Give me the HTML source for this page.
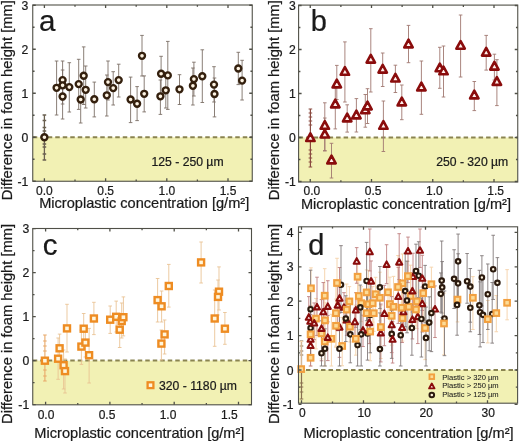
<!DOCTYPE html>
<html><head><meta charset="utf-8"><style>html,body{margin:0;padding:0;background:#fff;width:520px;height:443px;overflow:hidden}svg{display:block;filter:blur(0.35px)}</style></head>
<body><svg width="520" height="443" viewBox="0 0 520 443" font-family="Liberation Sans, sans-serif"><style>text{stroke:#1a1a1a;stroke-width:0.22px}</style><rect x="32.75" y="137.25" width="219.5" height="44" fill="#f2f1b4"/><line x1="32.75" y1="137.25" x2="252.25" y2="137.25" stroke="#8a8450" stroke-width="2" stroke-dasharray="4.5,3"/><path d="M44.4,115V160M42.6,115h3.6M42.6,120.5h3.6M42.6,127.5h3.6M42.6,131h3.6M42.6,144h3.6M42.6,147h3.6M42.6,154h3.6M42.6,160h3.6" stroke="#6a6050" stroke-width="1.3" fill="none"/><path d="M56.6,61V115M54.8,61h3.6M54.8,115h3.6M62.6,61V104M60.8,61h3.6M60.8,104h3.6M62.6,70V100M60.8,70h3.6M60.8,100h3.6M62.6,80V119M60.8,80h3.6M60.8,119h3.6M69.3,62.7V112M67.5,62.7h3.6M67.5,112h3.6M78.7,59.3V109.4M76.9,59.3h3.6M76.9,109.4h3.6M83.7,46.9V104.5M81.9,46.9h3.6M81.9,104.5h3.6M80.7,85V123M78.9,85h3.6M78.9,123h3.6M85.7,66V108M83.9,66h3.6M83.9,108h3.6M94.3,82.1V116.9M92.5,82.1h3.6M92.5,116.9h3.6M108,61V100M106.2,61h3.6M106.2,100h3.6M106.8,75V116M105,75h3.6M105,116h3.6M113.2,71.7V105M111.4,71.7h3.6M111.4,105h3.6M118.7,64.2V97M116.9,64.2h3.6M116.9,97h3.6M130.6,77.1V122.6M128.8,77.1h3.6M128.8,122.6h3.6M137.1,86.6V120.6M135.3,86.6h3.6M135.3,120.6h3.6M142,35.4V76M140.2,35.4h3.6M140.2,76h3.6M144.2,75.9V111.9M142.4,75.9h3.6M142.4,111.9h3.6M161.1,56.3V93M159.3,56.3h3.6M159.3,93h3.6M167.8,41.4V109.4M166,41.4h3.6M166,109.4h3.6M160.4,80V114.4M158.6,80h3.6M158.6,114.4h3.6M165.8,73V108M164,73h3.6M164,108h3.6M179.5,74.7V104.5M177.7,74.7h3.6M177.7,104.5h3.6M193.9,62.2V96M192.1,62.2h3.6M192.1,96h3.6M192.9,68V105M191.1,68h3.6M191.1,105h3.6M202.3,49.8V102.5M200.5,49.8h3.6M200.5,102.5h3.6M214,66.7V102M212.2,66.7h3.6M212.2,102h3.6M214.5,78V116.9M212.7,78h3.6M212.7,116.9h3.6M238.3,52.3V84.6M236.5,52.3h3.6M236.5,84.6h3.6M242.1,60.3V100M240.3,60.3h3.6M240.3,100h3.6M44.4,137V137M42.6,137h3.6M42.6,137h3.6" stroke="#7d7068" stroke-width="0.9" fill="none"/><circle cx="56.6" cy="87.8" r="3.0" fill="#fdf3e2" stroke="#34200e" stroke-width="2.35"/><circle cx="62.6" cy="80.1" r="3.0" fill="#fdf3e2" stroke="#34200e" stroke-width="2.35"/><circle cx="62.6" cy="85.3" r="3.0" fill="#fdf3e2" stroke="#34200e" stroke-width="2.35"/><circle cx="62.6" cy="96.5" r="3.0" fill="#fdf3e2" stroke="#34200e" stroke-width="2.35"/><circle cx="69.3" cy="87.1" r="3.0" fill="#fdf3e2" stroke="#34200e" stroke-width="2.35"/><circle cx="78.7" cy="84.1" r="3.0" fill="#fdf3e2" stroke="#34200e" stroke-width="2.35"/><circle cx="83.7" cy="75.7" r="3.0" fill="#fdf3e2" stroke="#34200e" stroke-width="2.35"/><circle cx="80.7" cy="99.5" r="3.0" fill="#fdf3e2" stroke="#34200e" stroke-width="2.35"/><circle cx="85.7" cy="89.8" r="3.0" fill="#fdf3e2" stroke="#34200e" stroke-width="2.35"/><circle cx="94.3" cy="99.2" r="3.0" fill="#fdf3e2" stroke="#34200e" stroke-width="2.35"/><circle cx="108" cy="82.1" r="3.0" fill="#fdf3e2" stroke="#34200e" stroke-width="2.35"/><circle cx="106.8" cy="95.3" r="3.0" fill="#fdf3e2" stroke="#34200e" stroke-width="2.35"/><circle cx="113.2" cy="88.1" r="3.0" fill="#fdf3e2" stroke="#34200e" stroke-width="2.35"/><circle cx="118.7" cy="80.1" r="3.0" fill="#fdf3e2" stroke="#34200e" stroke-width="2.35"/><circle cx="130.6" cy="99.5" r="3.0" fill="#fdf3e2" stroke="#34200e" stroke-width="2.35"/><circle cx="137.1" cy="103.7" r="3.0" fill="#fdf3e2" stroke="#34200e" stroke-width="2.35"/><circle cx="142" cy="55.8" r="3.0" fill="#fdf3e2" stroke="#34200e" stroke-width="2.35"/><circle cx="144.2" cy="93.8" r="3.0" fill="#fdf3e2" stroke="#34200e" stroke-width="2.35"/><circle cx="161.1" cy="73.7" r="3.0" fill="#fdf3e2" stroke="#34200e" stroke-width="2.35"/><circle cx="167.8" cy="75.4" r="3.0" fill="#fdf3e2" stroke="#34200e" stroke-width="2.35"/><circle cx="160.4" cy="96.3" r="3.0" fill="#fdf3e2" stroke="#34200e" stroke-width="2.35"/><circle cx="165.8" cy="90.3" r="3.0" fill="#fdf3e2" stroke="#34200e" stroke-width="2.35"/><circle cx="179.5" cy="89.3" r="3.0" fill="#fdf3e2" stroke="#34200e" stroke-width="2.35"/><circle cx="193.9" cy="79.1" r="3.0" fill="#fdf3e2" stroke="#34200e" stroke-width="2.35"/><circle cx="192.9" cy="85.8" r="3.0" fill="#fdf3e2" stroke="#34200e" stroke-width="2.35"/><circle cx="202.3" cy="76.2" r="3.0" fill="#fdf3e2" stroke="#34200e" stroke-width="2.35"/><circle cx="214" cy="84.6" r="3.0" fill="#fdf3e2" stroke="#34200e" stroke-width="2.35"/><circle cx="214.5" cy="94" r="3.0" fill="#fdf3e2" stroke="#34200e" stroke-width="2.35"/><circle cx="238.3" cy="68.5" r="3.0" fill="#fdf3e2" stroke="#34200e" stroke-width="2.35"/><circle cx="242.1" cy="80.6" r="3.0" fill="#fdf3e2" stroke="#34200e" stroke-width="2.35"/><circle cx="44.4" cy="137.25" r="3.0" fill="#fdf3e2" stroke="#34200e" stroke-width="2.35"/><path d="M32.75,5.25h3M252.25,5.25h-3M32.75,49.25h3M252.25,49.25h-3M32.75,93.25h3M252.25,93.25h-3M32.75,137.25h3M252.25,137.25h-3M32.75,181.25h3M252.25,181.25h-3M32.75,27.25h1.8M252.25,27.25h-1.8M32.75,71.25h1.8M252.25,71.25h-1.8M32.75,115.25h1.8M252.25,115.25h-1.8M32.75,159.25h1.8M252.25,159.25h-1.8M44.4,181.25v-3M44.4,5v3M105.6,181.25v-3M105.6,5v3M166.8,181.25v-3M166.8,5v3M228,181.25v-3M228,5v3M75,181.25v-1.8M75,5v1.8M136.2,181.25v-1.8M136.2,5v1.8M197.4,181.25v-1.8M197.4,5v1.8" stroke="#505048" stroke-width="1.3" fill="none"/><rect x="32.75" y="5" width="219.5" height="176.25" fill="none" stroke="#505048" stroke-width="1.1"/><text x="28.3" y="9.75" font-size="12.2" text-anchor="end" fill="#1a1a1a" >3</text><text x="28.3" y="53.75" font-size="12.2" text-anchor="end" fill="#1a1a1a" >2</text><text x="28.3" y="97.75" font-size="12.2" text-anchor="end" fill="#1a1a1a" >1</text><text x="28.3" y="141.75" font-size="12.2" text-anchor="end" fill="#1a1a1a" >0</text><text x="28.3" y="185.75" font-size="12.2" text-anchor="end" fill="#1a1a1a" >-1</text><text x="44.4" y="194.6" font-size="12" text-anchor="middle" fill="#1a1a1a" >0.0</text><text x="105.6" y="194.6" font-size="12" text-anchor="middle" fill="#1a1a1a" >0.5</text><text x="166.8" y="194.6" font-size="12" text-anchor="middle" fill="#1a1a1a" >1.0</text><text x="228" y="194.6" font-size="12" text-anchor="middle" fill="#1a1a1a" >1.5</text><text x="144.2" y="208.2" font-size="14.6" text-anchor="middle" fill="#1a1a1a" >Microplastic concentration [g/m²]</text><text x="11.7" y="100.15" font-size="14.73" text-anchor="middle" fill="#1a1a1a" transform="rotate(-90 11.7 100.15)">Difference in foam height [mm]</text><text x="38.9" y="31.2" font-size="29.5" text-anchor="start" fill="#1a1a1a" stroke="#111" stroke-width="0.7">a</text><text x="187.5" y="165.8" font-size="12.2" text-anchor="middle" fill="#1a1a1a" >125 - 250 µm</text><rect x="298.6" y="137.5" width="219.15" height="44.5" fill="#f2f1b4"/><line x1="298.6" y1="137.5" x2="517.75" y2="137.5" stroke="#8a8450" stroke-width="2" stroke-dasharray="4.5,3"/><path d="M310.4,108.6V167M308.6,109h3.6M308.6,113h3.6M308.6,117h3.6M308.6,121h3.6M308.6,125h3.6M308.6,150h3.6M308.6,154h3.6M308.6,158h3.6M308.6,162h3.6M308.6,167h3.6" stroke="#8a4a40" stroke-width="1.2" fill="none"/><path d="M310.4,137V137M308.6,137h3.6M308.6,137h3.6M324.8,102.8V150.8M323,102.8h3.6M323,150.8h3.6M324.8,118V150.8M323,118h3.6M323,150.8h3.6M331.5,143.3V178M329.7,143.3h3.6M329.7,178h3.6M335.3,88V128.9M333.5,88h3.6M333.5,128.9h3.6M336.8,65.4V99.5M335,65.4h3.6M335,99.5h3.6M344.9,41.9V102M343.1,41.9h3.6M343.1,102h3.6M347.2,104.8V132.1M345.4,104.8h3.6M345.4,132.1h3.6M356.4,98.6V132M354.6,98.6h3.6M354.6,132h3.6M365.3,94.5V127.2M363.5,94.5h3.6M363.5,127.2h3.6M367.5,88.7V123.5M365.7,88.7h3.6M365.7,123.5h3.6M370.8,28.7V92M369,28.7h3.6M369,92h3.6M382.7,53V86.5M380.9,53h3.6M380.9,86.5h3.6M383.4,101V151.5M381.6,101h3.6M381.6,151.5h3.6M395.4,65.2V92.5M393.6,65.2h3.6M393.6,92.5h3.6M401.8,85V119.7M400,85h3.6M400,119.7h3.6M408.5,25.4V62.7M406.7,25.4h3.6M406.7,62.7h3.6M421.4,61V114.3M419.6,61h3.6M419.6,114.3h3.6M439.8,47.3V88.3M438,47.3h3.6M438,88.3h3.6M443.5,46V97M441.7,46h3.6M441.7,97h3.6M460.6,15V77M458.8,15h3.6M458.8,77h3.6M474.3,81.5V110.6M472.5,81.5h3.6M472.5,110.6h3.6M486.2,35.4V70.1M484.4,35.4h3.6M484.4,70.1h3.6M494.4,54.2V80M492.6,54.2h3.6M492.6,80h3.6M496.9,59.7V105.6M495.1,59.7h3.6M495.1,105.6h3.6" stroke="#a07870" stroke-width="0.9" fill="none"/><path d="M310.4,133.32L314.61,141.01H306.19Z" fill="#fff0ec" stroke="#8a0c0c" stroke-width="2.6" stroke-linejoin="round"/><path d="M324.8,121.12L329.01,128.81H320.59Z" fill="#fff0ec" stroke="#8a0c0c" stroke-width="2.6" stroke-linejoin="round"/><path d="M324.8,129.82L329.01,137.51H320.59Z" fill="#fff0ec" stroke="#8a0c0c" stroke-width="2.6" stroke-linejoin="round"/><path d="M331.5,155.72L335.71,163.41H327.29Z" fill="#fff0ec" stroke="#8a0c0c" stroke-width="2.6" stroke-linejoin="round"/><path d="M335.3,99.72L339.51,107.41H331.09Z" fill="#fff0ec" stroke="#8a0c0c" stroke-width="2.6" stroke-linejoin="round"/><path d="M336.8,79.72L341.01,87.41H332.59Z" fill="#fff0ec" stroke="#8a0c0c" stroke-width="2.6" stroke-linejoin="round"/><path d="M344.9,67.12L349.11,74.81H340.69Z" fill="#fff0ec" stroke="#8a0c0c" stroke-width="2.6" stroke-linejoin="round"/><path d="M347.2,113.72L351.41,121.41H342.99Z" fill="#fff0ec" stroke="#8a0c0c" stroke-width="2.6" stroke-linejoin="round"/><path d="M356.4,110.72L360.61,118.41H352.19Z" fill="#fff0ec" stroke="#8a0c0c" stroke-width="2.6" stroke-linejoin="round"/><path d="M365.3,105.52L369.51,113.21H361.09Z" fill="#fff0ec" stroke="#8a0c0c" stroke-width="2.6" stroke-linejoin="round"/><path d="M367.5,101.72L371.71,109.41H363.29Z" fill="#fff0ec" stroke="#8a0c0c" stroke-width="2.6" stroke-linejoin="round"/><path d="M370.8,54.93L375.01,62.61H366.59Z" fill="#fff0ec" stroke="#8a0c0c" stroke-width="2.6" stroke-linejoin="round"/><path d="M382.7,64.92L386.91,72.61H378.49Z" fill="#fff0ec" stroke="#8a0c0c" stroke-width="2.6" stroke-linejoin="round"/><path d="M383.4,121.12L387.61,128.81H379.19Z" fill="#fff0ec" stroke="#8a0c0c" stroke-width="2.6" stroke-linejoin="round"/><path d="M395.4,73.82L399.61,81.51H391.19Z" fill="#fff0ec" stroke="#8a0c0c" stroke-width="2.6" stroke-linejoin="round"/><path d="M401.8,97.72L406.01,105.41H397.59Z" fill="#fff0ec" stroke="#8a0c0c" stroke-width="2.6" stroke-linejoin="round"/><path d="M408.5,39.73L412.71,47.41H404.29Z" fill="#fff0ec" stroke="#8a0c0c" stroke-width="2.6" stroke-linejoin="round"/><path d="M421.4,82.72L425.61,90.41H417.19Z" fill="#fff0ec" stroke="#8a0c0c" stroke-width="2.6" stroke-linejoin="round"/><path d="M439.8,63.62L444.01,71.31H435.59Z" fill="#fff0ec" stroke="#8a0c0c" stroke-width="2.6" stroke-linejoin="round"/><path d="M443.5,66.62L447.71,74.31H439.29Z" fill="#fff0ec" stroke="#8a0c0c" stroke-width="2.6" stroke-linejoin="round"/><path d="M460.6,41.02L464.81,48.71H456.39Z" fill="#fff0ec" stroke="#8a0c0c" stroke-width="2.6" stroke-linejoin="round"/><path d="M474.3,90.72L478.51,98.41H470.09Z" fill="#fff0ec" stroke="#8a0c0c" stroke-width="2.6" stroke-linejoin="round"/><path d="M486.2,47.93L490.41,55.61H481.99Z" fill="#fff0ec" stroke="#8a0c0c" stroke-width="2.6" stroke-linejoin="round"/><path d="M494.4,61.92L498.61,69.61H490.19Z" fill="#fff0ec" stroke="#8a0c0c" stroke-width="2.6" stroke-linejoin="round"/><path d="M496.9,77.22L501.11,84.91H492.69Z" fill="#fff0ec" stroke="#8a0c0c" stroke-width="2.6" stroke-linejoin="round"/><path d="M298.6,5.5h3M517.75,5.5h-3M298.6,49.5h3M517.75,49.5h-3M298.6,93.5h3M517.75,93.5h-3M298.6,137.5h3M517.75,137.5h-3M298.6,181.5h3M517.75,181.5h-3M298.6,27.5h1.8M517.75,27.5h-1.8M298.6,71.5h1.8M517.75,71.5h-1.8M298.6,115.5h1.8M517.75,115.5h-1.8M298.6,159.5h1.8M517.75,159.5h-1.8M310.25,182v-3M310.25,5.1v3M371.5,182v-3M371.5,5.1v3M432.75,182v-3M432.75,5.1v3M494,182v-3M494,5.1v3M340.88,182v-1.8M340.88,5.1v1.8M402.12,182v-1.8M402.12,5.1v1.8M463.38,182v-1.8M463.38,5.1v1.8" stroke="#505048" stroke-width="1.3" fill="none"/><rect x="298.6" y="5.1" width="219.15" height="176.9" fill="none" stroke="#505048" stroke-width="1.1"/><text x="295.9" y="10" font-size="12.2" text-anchor="end" fill="#1a1a1a" >3</text><text x="295.9" y="54" font-size="12.2" text-anchor="end" fill="#1a1a1a" >2</text><text x="295.9" y="98" font-size="12.2" text-anchor="end" fill="#1a1a1a" >1</text><text x="295.9" y="142" font-size="12.2" text-anchor="end" fill="#1a1a1a" >0</text><text x="295.9" y="186" font-size="12.2" text-anchor="end" fill="#1a1a1a" >-1</text><text x="311.85" y="195" font-size="12" text-anchor="middle" fill="#1a1a1a" >0.0</text><text x="373.1" y="195" font-size="12" text-anchor="middle" fill="#1a1a1a" >0.5</text><text x="434.35" y="195" font-size="12" text-anchor="middle" fill="#1a1a1a" >1.0</text><text x="495.6" y="195" font-size="12" text-anchor="middle" fill="#1a1a1a" >1.5</text><text x="406" y="208.8" font-size="14.6" text-anchor="middle" fill="#1a1a1a" >Microplastic concentration [g/m²]</text><text x="279.5" y="100.15" font-size="14.73" text-anchor="middle" fill="#1a1a1a" transform="rotate(-90 279.5 100.15)">Difference in foam height [mm]</text><text x="310.8" y="30.9" font-size="29" text-anchor="start" fill="#1a1a1a" stroke="#111" stroke-width="0.7">b</text><text x="472.2" y="166" font-size="12.2" text-anchor="middle" fill="#1a1a1a" >250 - 320 µm</text><rect x="32.75" y="360.6" width="218.75" height="44.2" fill="#f2f1b4"/><line x1="32.75" y1="360.6" x2="251.5" y2="360.6" stroke="#8a8450" stroke-width="2" stroke-dasharray="4.5,3"/><path d="M44.9,335V381M43.1,335h3.6M43.1,341h3.6M43.1,346h3.6M43.1,351h3.6M43.1,370h3.6M43.1,376h3.6M43.1,381h3.6" stroke="#e8a868" stroke-width="1.1" fill="none"/><path d="M44.9,360V360M43.1,360h3.6M43.1,360h3.6M58.1,338V379.3M56.3,338h3.6M56.3,379.3h3.6M59.6,334.1V362M57.8,334.1h3.6M57.8,362h3.6M63.6,350V389M61.8,350h3.6M61.8,389h3.6M65,359V393M63.2,359h3.6M63.2,393h3.6M67,304.3V352M65.2,304.3h3.6M65.2,352h3.6M81.4,330V364.4M79.6,330h3.6M79.6,364.4h3.6M83.7,313.5V343.3M81.9,313.5h3.6M81.9,343.3h3.6M85.4,327.7V357M83.6,327.7h3.6M83.6,357h3.6M89.1,328.4V383M87.3,328.4h3.6M87.3,383h3.6M93.9,302.3V334.6M92.1,302.3h3.6M92.1,334.6h3.6M110.2,306V333.4M108.4,306h3.6M108.4,333.4h3.6M116.2,301.1V332M114.4,301.1h3.6M114.4,332h3.6M119.7,314V347.5M117.9,314h3.6M117.9,347.5h3.6M121.7,303V338M119.9,303h3.6M119.9,338h3.6M123.4,296.9V335.9M121.6,296.9h3.6M121.6,335.9h3.6M157.6,278.5V322M155.8,278.5h3.6M155.8,322h3.6M161.6,291V322M159.8,291h3.6M159.8,322h3.6M168.8,264.4V307.1M167,264.4h3.6M167,307.1h3.6M164.6,320V354M162.8,320h3.6M162.8,354h3.6M161.4,330V360M159.6,330h3.6M159.6,360h3.6M201.1,242V283M199.3,242h3.6M199.3,283h3.6M219,266.9V310M217.2,266.9h3.6M217.2,310h3.6M218,280V315M216.2,280h3.6M216.2,315h3.6M214.7,290V346.3M212.9,290h3.6M212.9,346.3h3.6M224.9,312.5V344.3M223.1,312.5h3.6M223.1,344.3h3.6" stroke="#e8c090" stroke-width="0.85" fill="none"/><rect x="41.9" y="357.7" width="6" height="6" fill="#fff6dc" stroke="#ee8c22" stroke-width="2.4"/><rect x="55.1" y="355.7" width="6" height="6" fill="#fff6dc" stroke="#ee8c22" stroke-width="2.4"/><rect x="56.6" y="345.3" width="6" height="6" fill="#fff6dc" stroke="#ee8c22" stroke-width="2.4"/><rect x="60.6" y="362.2" width="6" height="6" fill="#fff6dc" stroke="#ee8c22" stroke-width="2.4"/><rect x="62" y="368.1" width="6" height="6" fill="#fff6dc" stroke="#ee8c22" stroke-width="2.4"/><rect x="64" y="325.4" width="6" height="6" fill="#fff6dc" stroke="#ee8c22" stroke-width="2.4"/><rect x="78.4" y="343.6" width="6" height="6" fill="#fff6dc" stroke="#ee8c22" stroke-width="2.4"/><rect x="80.7" y="325.7" width="6" height="6" fill="#fff6dc" stroke="#ee8c22" stroke-width="2.4"/><rect x="82.4" y="339.6" width="6" height="6" fill="#fff6dc" stroke="#ee8c22" stroke-width="2.4"/><rect x="86.1" y="352.2" width="6" height="6" fill="#fff6dc" stroke="#ee8c22" stroke-width="2.4"/><rect x="90.9" y="315.5" width="6" height="6" fill="#fff6dc" stroke="#ee8c22" stroke-width="2.4"/><rect x="107.2" y="316.7" width="6" height="6" fill="#fff6dc" stroke="#ee8c22" stroke-width="2.4"/><rect x="113.2" y="313.8" width="6" height="6" fill="#fff6dc" stroke="#ee8c22" stroke-width="2.4"/><rect x="116.7" y="326.7" width="6" height="6" fill="#fff6dc" stroke="#ee8c22" stroke-width="2.4"/><rect x="118.7" y="318" width="6" height="6" fill="#fff6dc" stroke="#ee8c22" stroke-width="2.4"/><rect x="120.4" y="314.2" width="6" height="6" fill="#fff6dc" stroke="#ee8c22" stroke-width="2.4"/><rect x="154.6" y="297.1" width="6" height="6" fill="#fff6dc" stroke="#ee8c22" stroke-width="2.4"/><rect x="158.6" y="303.3" width="6" height="6" fill="#fff6dc" stroke="#ee8c22" stroke-width="2.4"/><rect x="165.8" y="283" width="6" height="6" fill="#fff6dc" stroke="#ee8c22" stroke-width="2.4"/><rect x="161.6" y="331.4" width="6" height="6" fill="#fff6dc" stroke="#ee8c22" stroke-width="2.4"/><rect x="158.4" y="340.6" width="6" height="6" fill="#fff6dc" stroke="#ee8c22" stroke-width="2.4"/><rect x="198.1" y="259.4" width="6" height="6" fill="#fff6dc" stroke="#ee8c22" stroke-width="2.4"/><rect x="216" y="288.7" width="6" height="6" fill="#fff6dc" stroke="#ee8c22" stroke-width="2.4"/><rect x="215" y="293.9" width="6" height="6" fill="#fff6dc" stroke="#ee8c22" stroke-width="2.4"/><rect x="211.7" y="315.5" width="6" height="6" fill="#fff6dc" stroke="#ee8c22" stroke-width="2.4"/><rect x="221.9" y="325.7" width="6" height="6" fill="#fff6dc" stroke="#ee8c22" stroke-width="2.4"/><path d="M32.75,228.6h3M251.5,228.6h-3M32.75,272.6h3M251.5,272.6h-3M32.75,316.6h3M251.5,316.6h-3M32.75,360.6h3M251.5,360.6h-3M32.75,404.6h3M251.5,404.6h-3M32.75,250.6h1.8M251.5,250.6h-1.8M32.75,294.6h1.8M251.5,294.6h-1.8M32.75,338.6h1.8M251.5,338.6h-1.8M32.75,382.6h1.8M251.5,382.6h-1.8M45.6,404.8v-3M45.6,228.5v3M109.9,404.8v-3M109.9,228.5v3M174.2,404.8v-3M174.2,228.5v3M238.5,404.8v-3M238.5,228.5v3M77.75,404.8v-1.8M77.75,228.5v1.8M142.05,404.8v-1.8M142.05,228.5v1.8M206.35,404.8v-1.8M206.35,228.5v1.8" stroke="#505048" stroke-width="1.3" fill="none"/><rect x="32.75" y="228.5" width="218.75" height="176.3" fill="none" stroke="#505048" stroke-width="1.1"/><text x="29.2" y="233.4" font-size="12.2" text-anchor="end" fill="#1a1a1a" >3</text><text x="29.2" y="277.4" font-size="12.2" text-anchor="end" fill="#1a1a1a" >2</text><text x="29.2" y="321.4" font-size="12.2" text-anchor="end" fill="#1a1a1a" >1</text><text x="29.2" y="365.4" font-size="12.2" text-anchor="end" fill="#1a1a1a" >0</text><text x="29.2" y="409.4" font-size="12.2" text-anchor="end" fill="#1a1a1a" >-1</text><text x="46" y="419.2" font-size="12" text-anchor="middle" fill="#1a1a1a" >0.0</text><text x="107" y="419.2" font-size="12" text-anchor="middle" fill="#1a1a1a" >0.5</text><text x="168" y="419.2" font-size="12" text-anchor="middle" fill="#1a1a1a" >1.0</text><text x="229.4" y="419.2" font-size="12" text-anchor="middle" fill="#1a1a1a" >1.5</text><text x="139.4" y="438.2" font-size="14.6" text-anchor="middle" fill="#1a1a1a" >Microplastic concentration [g/m²]</text><text x="11.7" y="323.9" font-size="14.73" text-anchor="middle" fill="#1a1a1a" transform="rotate(-90 11.7 323.9)">Difference in foam height [mm]</text><text x="42.8" y="255.3" font-size="29.5" text-anchor="start" fill="#1a1a1a" stroke="#111" stroke-width="0.7">c</text><rect x="147.6" y="382.3" width="5.8" height="5.8" fill="#fff6dc" stroke="#ee8c22" stroke-width="2.3"/><text x="198" y="390.4" font-size="12.2" text-anchor="middle" fill="#1a1a1a" >320 - 1180 µm</text><rect x="298.5" y="370" width="219.1" height="33.2" fill="#f2f1b4"/><line x1="298.5" y1="370" x2="517.6" y2="370" stroke="#8a8450" stroke-width="2" stroke-dasharray="4.5,3"/><path d="M301.5,341V399M299.7,341h3.6M299.7,346h3.6M299.7,351h3.6M299.7,355h3.6M299.7,383h3.6M299.7,387h3.6M299.7,392h3.6M299.7,399h3.6" stroke="#8a7050" stroke-width="1.2" fill="none"/><path d="M311,267.82V305.32M309.2,267.82h3.6M309.2,305.32h3.6M324.7,268.68V311.15M322.9,268.68h3.6M322.9,311.15h3.6M337,258.28V304.31M335.2,258.28h3.6M335.2,304.31h3.6M357.6,261.54V300.85M355.8,261.54h3.6M355.8,300.85h3.6M349.4,286.65V324.07M347.6,286.65h3.6M347.6,324.07h3.6M358.8,280.6V311.81M357,280.6h3.6M357,311.81h3.6M366.6,269.91V322.94M364.8,269.91h3.6M364.8,322.94h3.6M361.2,286.72V321.66M359.4,286.72h3.6M359.4,321.66h3.6M335.9,286.65V346.15M334.1,286.65h3.6M334.1,346.15h3.6M346.7,284.06V331.53M344.9,284.06h3.6M344.9,331.53h3.6M368.4,270.67V319.13M366.6,270.67h3.6M366.6,319.13h3.6M366.6,282.03V332.99M364.8,282.03h3.6M364.8,332.99h3.6M375.6,277.31V310.56M373.8,277.31h3.6M373.8,310.56h3.6M316,298.43V348.92M314.2,298.43h3.6M314.2,348.92h3.6M325,302.79V346.03M323.2,302.79h3.6M323.2,346.03h3.6M336,299.02V347.25M334.2,299.02h3.6M334.2,347.25h3.6M350,301.75V341.96M348.2,301.75h3.6M348.2,341.96h3.6M373.8,298.01V331.32M372,298.01h3.6M372,331.32h3.6M301.2,341.49V366M299.4,341.49h3.6M299.4,366h3.6M310.6,337.52V366M308.8,337.52h3.6M308.8,366h3.6M310.6,311.24V354.3M308.8,311.24h3.6M308.8,354.3h3.6M324.7,311.61V366M322.9,311.61h3.6M322.9,366h3.6M321.5,314.52V358.89M319.7,314.52h3.6M319.7,358.89h3.6M331.4,314.3V366M329.6,314.3h3.6M329.6,366h3.6M342.2,317.41V365.76M340.4,317.41h3.6M340.4,365.76h3.6M355.8,305.2V355.16M354,305.2h3.6M354,355.16h3.6M370.2,309.24V360.74M368.4,309.24h3.6M368.4,360.74h3.6M431.4,267.16V307.98M429.6,267.16h3.6M429.6,307.98h3.6M407.9,261.32V303.46M406.1,261.32h3.6M406.1,303.46h3.6M402.5,254.01V308.76M400.7,254.01h3.6M400.7,308.76h3.6M398,255.49V307.27M396.2,255.49h3.6M396.2,307.27h3.6M388,264.39V318.19M386.2,264.39h3.6M386.2,318.19h3.6M379.9,272.2V320.92M378.1,272.2h3.6M378.1,320.92h3.6M410.6,265.2V328.89M408.8,265.2h3.6M408.8,328.89h3.6M416.9,277.92V328.68M415.1,277.92h3.6M415.1,328.68h3.6M423.2,277.99V321.23M421.4,277.99h3.6M421.4,321.23h3.6M389.9,277.16V337.96M388.1,277.16h3.6M388.1,337.96h3.6M393.5,276.36V326.49M391.7,276.36h3.6M391.7,326.49h3.6M401.6,285.98V335.07M399.8,285.98h3.6M399.8,335.07h3.6M408.8,292.35V330.03M407,292.35h3.6M407,330.03h3.6M416,292.14V325.84M414.2,292.14h3.6M414.2,325.84h3.6M391.7,300.62V345.16M389.9,300.62h3.6M389.9,345.16h3.6M372.7,286.61V322.15M370.9,286.61h3.6M370.9,322.15h3.6M380.8,305.28V358.53M379,305.28h3.6M379,358.53h3.6M402.5,302.49V341.08M400.7,302.49h3.6M400.7,341.08h3.6M425.1,303.01V359.67M423.3,303.01h3.6M423.3,359.67h3.6M444,293.11V354.78M442.2,293.11h3.6M442.2,354.78h3.6M457.5,280.03V321.91M455.7,280.03h3.6M455.7,321.91h3.6M472.9,276.62V329.48M471.1,276.62h3.6M471.1,329.48h3.6M507.1,269.65V319.82M505.3,269.65h3.6M505.3,319.82h3.6M496.3,295.58V331.74M494.5,295.58h3.6M494.5,331.74h3.6M487.8,300.53V342.9M486,300.53h3.6M486,342.9h3.6" stroke="#f6d6b0" stroke-width="1.0" fill="none"/><path d="M369.8,229V270.93M368,229h3.6M368,270.93h3.6M356.7,247.63V283.24M354.9,247.63h3.6M354.9,283.24h3.6M371.1,260.95V305.79M369.3,260.95h3.6M369.3,305.79h3.6M339.5,267.54V325.13M337.7,267.54h3.6M337.7,325.13h3.6M337.7,282.32V330.72M335.9,282.32h3.6M335.9,330.72h3.6M327.8,280.73V321.87M326,280.73h3.6M326,321.87h3.6M317,277.21V335.44M315.2,277.21h3.6M315.2,335.44h3.6M323.3,282.56V340.66M321.5,282.56h3.6M321.5,340.66h3.6M308.8,296.64V338.88M307,296.64h3.6M307,338.88h3.6M310.3,305.94V347.22M308.5,305.94h3.6M308.5,347.22h3.6M344,292.68V323.01M342.2,292.68h3.6M342.2,323.01h3.6M355.8,292.74V327.42M354,292.74h3.6M354,327.42h3.6M346.7,300.28V335.35M344.9,300.28h3.6M344.9,335.35h3.6M354.9,308.2V338.92M353.1,308.2h3.6M353.1,338.92h3.6M369.3,307.27V343.64M367.5,307.27h3.6M367.5,343.64h3.6M339.5,313.14V357.34M337.7,313.14h3.6M337.7,357.34h3.6M310.6,314.65V356.37M308.8,314.65h3.6M308.8,356.37h3.6M310.6,327.46V366M308.8,327.46h3.6M308.8,366h3.6M314.2,302.95V339.71M312.4,302.95h3.6M312.4,339.71h3.6M321.5,299.62V360.78M319.7,299.62h3.6M319.7,360.78h3.6M327.8,315.51V360.61M326,315.51h3.6M326,360.61h3.6M363,315.15V346.54M361.2,315.15h3.6M361.2,346.54h3.6M386.6,244.73V283.67M384.8,244.73h3.6M384.8,283.67h3.6M399.2,233.68V279.51M397.4,233.68h3.6M397.4,279.51h3.6M408,237.08V282.62M406.2,237.08h3.6M406.2,282.62h3.6M420,229V267.44M418.2,229h3.6M418.2,267.44h3.6M413,253.22V291.49M411.2,253.22h3.6M411.2,291.49h3.6M422.3,255.29V310.41M420.5,255.29h3.6M420.5,310.41h3.6M398.3,267.36V323.43M396.5,267.36h3.6M396.5,323.43h3.6M412.4,272.7V312M410.6,272.7h3.6M410.6,312h3.6M422.3,287.09V331.99M420.5,287.09h3.6M420.5,331.99h3.6M435,285.91V337.52M433.2,285.91h3.6M433.2,337.52h3.6M403.4,292.27V330.21M401.6,292.27h3.6M401.6,330.21h3.6M384.4,285.39V345.73M382.6,285.39h3.6M382.6,345.73h3.6M380.8,304.05V361.91M379,304.05h3.6M379,361.91h3.6M391.7,296.57V352.62M389.9,296.57h3.6M389.9,352.62h3.6M392.6,321.62V363.02M390.8,321.62h3.6M390.8,363.02h3.6M402.1,307.6V342.52M400.3,307.6h3.6M400.3,342.52h3.6M412.4,305.4V338.93M410.6,305.4h3.6M410.6,338.93h3.6M417.8,298.43V343.57M416,298.43h3.6M416,343.57h3.6" stroke="#c08080" stroke-width="0.9" fill="none"/><path d="M341,245.66V312.54M339.2,245.66h3.6M339.2,312.54h3.6M366.6,242.39V320.74M364.8,242.39h3.6M364.8,320.74h3.6M310.6,270.19V335.22M308.8,270.19h3.6M308.8,335.22h3.6M345.8,295.75V341.59M344,295.75h3.6M344,341.59h3.6M360.3,285.07V329.9M358.5,285.07h3.6M358.5,329.9h3.6M370.2,283.27V352.81M368.4,283.27h3.6M368.4,352.81h3.6M310.6,291.51V356.55M308.8,291.51h3.6M308.8,356.55h3.6M321.5,320.83V366M319.7,320.83h3.6M319.7,366h3.6M325,328.83V366M323.2,328.83h3.6M323.2,366h3.6M339.5,310.68V366M337.7,310.68h3.6M337.7,366h3.6M350.3,299.8V362.82M348.5,299.8h3.6M348.5,362.82h3.6M357.6,323.17V366M355.8,323.17h3.6M355.8,366h3.6M361.2,308.98V366M359.4,308.98h3.6M359.4,366h3.6M367.5,294.02V360.11M365.7,294.02h3.6M365.7,360.11h3.6M416,244.17V309.83M414.2,244.17h3.6M414.2,309.83h3.6M418.7,241.75V297.44M416.9,241.75h3.6M416.9,297.44h3.6M379.9,266.51V308.63M378.1,266.51h3.6M378.1,308.63h3.6M405.2,253.19V326.84M403.4,253.19h3.6M403.4,326.84h3.6M425.1,265.38V322.78M423.3,265.38h3.6M423.3,322.78h3.6M441.7,241.03V313.06M439.9,241.03h3.6M439.9,313.06h3.6M442.2,261.59V317.37M440.4,261.59h3.6M440.4,317.37h3.6M440.8,272.92V312.11M439,272.92h3.6M439,312.11h3.6M407,261.14V332.79M405.2,261.14h3.6M405.2,332.79h3.6M431.4,283.52V351.64M429.6,283.52h3.6M429.6,351.64h3.6M444.5,290.96V355.68M442.7,290.96h3.6M442.7,355.68h3.6M379.9,312.92V366M378.1,312.92h3.6M378.1,366h3.6M391.7,310.36V358.35M389.9,310.36h3.6M389.9,358.35h3.6M400.7,311.91V366M398.9,311.91h3.6M398.9,366h3.6M411.9,304.29V355.22M410.1,304.29h3.6M410.1,355.22h3.6M421.4,298.12V357.02M419.6,298.12h3.6M419.6,357.02h3.6M429.2,296.82V350.68M427.4,296.82h3.6M427.4,350.68h3.6M426,307.07V366M424.2,307.07h3.6M424.2,366h3.6M458.1,234.05V299.49M456.3,234.05h3.6M456.3,299.49h3.6M454.1,249.76V308.5M452.3,249.76h3.6M452.3,308.5h3.6M458.1,253.78V301.71M456.3,253.78h3.6M456.3,301.71h3.6M467.1,253.52V303.23M465.3,253.52h3.6M465.3,303.23h3.6M470.3,268.51V322.18M468.5,268.51h3.6M468.5,322.18h3.6M481.9,255.71V305.92M480.1,255.71h3.6M480.1,305.92h3.6M493.2,235.25V299.44M491.4,235.25h3.6M491.4,299.44h3.6M497.4,257.63V312.2M495.6,257.63h3.6M495.6,312.2h3.6M487.8,263.98V329.45M486,263.98h3.6M486,329.45h3.6M457.1,284.57V335.23M455.3,284.57h3.6M455.3,335.23h3.6M470.3,284.23V331.79M468.5,284.23h3.6M468.5,331.79h3.6M479.4,270.31V334.47M477.6,270.31h3.6M477.6,334.47h3.6M480.1,281.84V346.92M478.3,281.84h3.6M478.3,346.92h3.6M483,276.73V342.55M481.2,276.73h3.6M481.2,342.55h3.6M492.2,282.52V343.12M490.4,282.52h3.6M490.4,343.12h3.6" stroke="#7c7474" stroke-width="0.85" fill="none"/><circle cx="441.7" cy="280.6" r="2.25" fill="#fdf1dc" stroke="#2b1a0e" stroke-width="2.15"/><rect x="363.8" y="289.6" width="5.6" height="5.6" fill="#fcdc98" stroke="#f2a040" stroke-width="2.1"/><rect x="454.7" y="296.8" width="5.6" height="5.6" fill="#fcdc98" stroke="#f2a040" stroke-width="2.1"/><circle cx="367.5" cy="333.4" r="2.25" fill="#fdf1dc" stroke="#2b1a0e" stroke-width="2.15"/><rect x="321.9" y="338.7" width="5.6" height="5.6" fill="#fcdc98" stroke="#f2a040" stroke-width="2.1"/><rect x="328.6" y="336" width="5.6" height="5.6" fill="#fcdc98" stroke="#f2a040" stroke-width="2.1"/><rect x="406" y="304" width="5.6" height="5.6" fill="#fcdc98" stroke="#f2a040" stroke-width="2.1"/><rect x="339.4" y="343.2" width="5.6" height="5.6" fill="#fcdc98" stroke="#f2a040" stroke-width="2.1"/><path d="M310.3,318.3L313.32,323.82H307.28Z" fill="#fff0ec" stroke="#8a0c0c" stroke-width="2.1" stroke-linejoin="round"/><rect x="318.7" y="330.6" width="5.6" height="5.6" fill="#fcdc98" stroke="#f2a040" stroke-width="2.1"/><circle cx="442.2" cy="287.3" r="2.25" fill="#fdf1dc" stroke="#2b1a0e" stroke-width="2.15"/><rect x="367.4" y="328.8" width="5.6" height="5.6" fill="#fcdc98" stroke="#f2a040" stroke-width="2.1"/><circle cx="310.6" cy="328" r="2.25" fill="#fdf1dc" stroke="#2b1a0e" stroke-width="2.15"/><path d="M391.7,321.8L394.72,327.32H388.68Z" fill="#fff0ec" stroke="#8a0c0c" stroke-width="2.1" stroke-linejoin="round"/><circle cx="400.7" cy="335.2" r="2.25" fill="#fdf1dc" stroke="#2b1a0e" stroke-width="2.15"/><circle cx="310.6" cy="309.2" r="2.25" fill="#fdf1dc" stroke="#2b1a0e" stroke-width="2.15"/><rect x="358.4" y="300.4" width="5.6" height="5.6" fill="#fcdc98" stroke="#f2a040" stroke-width="2.1"/><path d="M321.5,325.4L324.52,330.92H318.48Z" fill="#fff0ec" stroke="#8a0c0c" stroke-width="2.1" stroke-linejoin="round"/><circle cx="467.1" cy="281.2" r="2.25" fill="#fdf1dc" stroke="#2b1a0e" stroke-width="2.15"/><path d="M327.8,334.4L330.82,339.92H324.78Z" fill="#fff0ec" stroke="#8a0c0c" stroke-width="2.1" stroke-linejoin="round"/><circle cx="425.1" cy="286.6" r="2.25" fill="#fdf1dc" stroke="#2b1a0e" stroke-width="2.15"/><path d="M310.6,336.2L313.62,341.72H307.58Z" fill="#fff0ec" stroke="#8a0c0c" stroke-width="2.1" stroke-linejoin="round"/><path d="M339.5,324.1L342.52,329.62H336.48Z" fill="#fff0ec" stroke="#8a0c0c" stroke-width="2.1" stroke-linejoin="round"/><circle cx="379.9" cy="287.3" r="2.25" fill="#fdf1dc" stroke="#2b1a0e" stroke-width="2.15"/><path d="M363,327.2L366.02,332.72H359.98Z" fill="#fff0ec" stroke="#8a0c0c" stroke-width="2.1" stroke-linejoin="round"/><rect x="308.2" y="285.5" width="5.6" height="5.6" fill="#fcdc98" stroke="#f2a040" stroke-width="2.1"/><circle cx="440.8" cy="293.8" r="2.25" fill="#fdf1dc" stroke="#2b1a0e" stroke-width="2.15"/><circle cx="418.7" cy="275.7" r="2.25" fill="#fdf1dc" stroke="#2b1a0e" stroke-width="2.15"/><circle cx="470.3" cy="286.6" r="2.25" fill="#fdf1dc" stroke="#2b1a0e" stroke-width="2.15"/><circle cx="370.2" cy="315" r="2.25" fill="#fdf1dc" stroke="#2b1a0e" stroke-width="2.15"/><path d="M408,248L411.02,253.52H404.98Z" fill="#fff0ec" stroke="#8a0c0c" stroke-width="2.1" stroke-linejoin="round"/><path d="M310.6,342.5L313.62,348.02H307.58Z" fill="#fff0ec" stroke="#8a0c0c" stroke-width="2.1" stroke-linejoin="round"/><path d="M413,273.5L416.02,279.02H409.98Z" fill="#fff0ec" stroke="#8a0c0c" stroke-width="2.1" stroke-linejoin="round"/><path d="M402.1,324.5L405.12,330.02H399.08Z" fill="#fff0ec" stroke="#8a0c0c" stroke-width="2.1" stroke-linejoin="round"/><path d="M386.6,261.4L389.62,266.92H383.58Z" fill="#fff0ec" stroke="#8a0c0c" stroke-width="2.1" stroke-linejoin="round"/><rect x="321.9" y="292.9" width="5.6" height="5.6" fill="#fcdc98" stroke="#f2a040" stroke-width="2.1"/><rect x="388.9" y="313" width="5.6" height="5.6" fill="#fcdc98" stroke="#f2a040" stroke-width="2.1"/><rect x="346.6" y="298.6" width="5.6" height="5.6" fill="#fcdc98" stroke="#f2a040" stroke-width="2.1"/><circle cx="405.2" cy="291.1" r="2.25" fill="#fdf1dc" stroke="#2b1a0e" stroke-width="2.15"/><path d="M308.8,314.2L311.82,319.72H305.78Z" fill="#fff0ec" stroke="#8a0c0c" stroke-width="2.1" stroke-linejoin="round"/><rect x="354.8" y="273.9" width="5.6" height="5.6" fill="#fcdc98" stroke="#f2a040" stroke-width="2.1"/><circle cx="350.3" cy="334.3" r="2.25" fill="#fdf1dc" stroke="#2b1a0e" stroke-width="2.15"/><circle cx="492.2" cy="314" r="2.25" fill="#fdf1dc" stroke="#2b1a0e" stroke-width="2.15"/><circle cx="366.6" cy="281" r="2.25" fill="#fdf1dc" stroke="#2b1a0e" stroke-width="2.15"/><rect x="399.7" y="315.3" width="5.6" height="5.6" fill="#fcdc98" stroke="#f2a040" stroke-width="2.1"/><rect x="385.2" y="289.5" width="5.6" height="5.6" fill="#fcdc98" stroke="#f2a040" stroke-width="2.1"/><rect x="387.1" y="301.3" width="5.6" height="5.6" fill="#fcdc98" stroke="#f2a040" stroke-width="2.1"/><circle cx="361.2" cy="334.3" r="2.25" fill="#fdf1dc" stroke="#2b1a0e" stroke-width="2.15"/><path d="M346.7,316.9L349.72,322.42H343.68Z" fill="#fff0ec" stroke="#8a0c0c" stroke-width="2.1" stroke-linejoin="round"/><circle cx="379.9" cy="349.1" r="2.25" fill="#fdf1dc" stroke="#2b1a0e" stroke-width="2.15"/><path d="M380.8,329.9L383.82,335.42H377.78Z" fill="#fff0ec" stroke="#8a0c0c" stroke-width="2.1" stroke-linejoin="round"/><rect x="347.2" y="323.9" width="5.6" height="5.6" fill="#fcdc98" stroke="#f2a040" stroke-width="2.1"/><path d="M420,247.3L423.02,252.82H416.98Z" fill="#fff0ec" stroke="#8a0c0c" stroke-width="2.1" stroke-linejoin="round"/><path d="M398.3,293.4L401.32,298.92H395.28Z" fill="#fff0ec" stroke="#8a0c0c" stroke-width="2.1" stroke-linejoin="round"/><circle cx="391.7" cy="333.9" r="2.25" fill="#fdf1dc" stroke="#2b1a0e" stroke-width="2.15"/><circle cx="444.5" cy="318.5" r="2.25" fill="#fdf1dc" stroke="#2b1a0e" stroke-width="2.15"/><path d="M369.8,248.7L372.82,254.22H366.78Z" fill="#fff0ec" stroke="#8a0c0c" stroke-width="2.1" stroke-linejoin="round"/><path d="M422.3,275.3L425.32,280.82H419.28Z" fill="#fff0ec" stroke="#8a0c0c" stroke-width="2.1" stroke-linejoin="round"/><rect x="470.1" y="295" width="5.6" height="5.6" fill="#fcdc98" stroke="#f2a040" stroke-width="2.1"/><circle cx="357.6" cy="345.1" r="2.25" fill="#fdf1dc" stroke="#2b1a0e" stroke-width="2.15"/><path d="M435,306L438.02,311.52H431.98Z" fill="#fff0ec" stroke="#8a0c0c" stroke-width="2.1" stroke-linejoin="round"/><path d="M399.2,259.1L402.22,264.62H396.18Z" fill="#fff0ec" stroke="#8a0c0c" stroke-width="2.1" stroke-linejoin="round"/><path d="M327.8,303.4L330.82,308.92H324.78Z" fill="#fff0ec" stroke="#8a0c0c" stroke-width="2.1" stroke-linejoin="round"/><rect x="356" y="293.2" width="5.6" height="5.6" fill="#fcdc98" stroke="#f2a040" stroke-width="2.1"/><rect x="414.1" y="298.6" width="5.6" height="5.6" fill="#fcdc98" stroke="#f2a040" stroke-width="2.1"/><rect x="407.8" y="293.2" width="5.6" height="5.6" fill="#fcdc98" stroke="#f2a040" stroke-width="2.1"/><rect x="365.6" y="301.4" width="5.6" height="5.6" fill="#fcdc98" stroke="#f2a040" stroke-width="2.1"/><rect x="313.2" y="315.8" width="5.6" height="5.6" fill="#fcdc98" stroke="#f2a040" stroke-width="2.1"/><rect x="399.7" y="280.5" width="5.6" height="5.6" fill="#fcdc98" stroke="#f2a040" stroke-width="2.1"/><rect x="322.2" y="317.6" width="5.6" height="5.6" fill="#fcdc98" stroke="#f2a040" stroke-width="2.1"/><rect x="333.1" y="310.4" width="5.6" height="5.6" fill="#fcdc98" stroke="#f2a040" stroke-width="2.1"/><circle cx="341" cy="284.7" r="2.25" fill="#fdf1dc" stroke="#2b1a0e" stroke-width="2.15"/><rect x="390.7" y="304" width="5.6" height="5.6" fill="#fcdc98" stroke="#f2a040" stroke-width="2.1"/><circle cx="470.3" cy="307.7" r="2.25" fill="#fdf1dc" stroke="#2b1a0e" stroke-width="2.15"/><rect x="369.9" y="300.4" width="5.6" height="5.6" fill="#fcdc98" stroke="#f2a040" stroke-width="2.1"/><rect x="504.3" y="300" width="5.6" height="5.6" fill="#fcdc98" stroke="#f2a040" stroke-width="2.1"/><path d="M412.4,287.9L415.42,293.42H409.38Z" fill="#fff0ec" stroke="#8a0c0c" stroke-width="2.1" stroke-linejoin="round"/><circle cx="426" cy="337.9" r="2.25" fill="#fdf1dc" stroke="#2b1a0e" stroke-width="2.15"/><path d="M317,303.9L320.02,309.42H313.98Z" fill="#fff0ec" stroke="#8a0c0c" stroke-width="2.1" stroke-linejoin="round"/><circle cx="480.1" cy="312.2" r="2.25" fill="#fdf1dc" stroke="#2b1a0e" stroke-width="2.15"/><path d="M392.6,336.2L395.62,341.72H389.58Z" fill="#fff0ec" stroke="#8a0c0c" stroke-width="2.1" stroke-linejoin="round"/><rect x="334.2" y="280.2" width="5.6" height="5.6" fill="#fcdc98" stroke="#f2a040" stroke-width="2.1"/><circle cx="416" cy="271" r="2.25" fill="#fdf1dc" stroke="#2b1a0e" stroke-width="2.15"/><rect x="363.8" y="310.4" width="5.6" height="5.6" fill="#fcdc98" stroke="#f2a040" stroke-width="2.1"/><circle cx="457.1" cy="304.9" r="2.25" fill="#fdf1dc" stroke="#2b1a0e" stroke-width="2.15"/><rect x="422.3" y="325.2" width="5.6" height="5.6" fill="#fcdc98" stroke="#f2a040" stroke-width="2.1"/><rect x="353" y="336" width="5.6" height="5.6" fill="#fcdc98" stroke="#f2a040" stroke-width="2.1"/><circle cx="458.1" cy="283.3" r="2.25" fill="#fdf1dc" stroke="#2b1a0e" stroke-width="2.15"/><rect x="378" y="324.3" width="5.6" height="5.6" fill="#fcdc98" stroke="#f2a040" stroke-width="2.1"/><circle cx="487.8" cy="294.2" r="2.25" fill="#fdf1dc" stroke="#2b1a0e" stroke-width="2.15"/><path d="M354.9,318.7L357.92,324.22H351.88Z" fill="#fff0ec" stroke="#8a0c0c" stroke-width="2.1" stroke-linejoin="round"/><path d="M339.5,295.2L342.52,300.72H336.48Z" fill="#fff0ec" stroke="#8a0c0c" stroke-width="2.1" stroke-linejoin="round"/><path d="M412.4,316.4L415.42,321.92H409.38Z" fill="#fff0ec" stroke="#8a0c0c" stroke-width="2.1" stroke-linejoin="round"/><circle cx="360.3" cy="307.4" r="2.25" fill="#fdf1dc" stroke="#2b1a0e" stroke-width="2.15"/><circle cx="339.5" cy="348.7" r="2.25" fill="#fdf1dc" stroke="#2b1a0e" stroke-width="2.15"/><circle cx="479.4" cy="305.3" r="2.25" fill="#fdf1dc" stroke="#2b1a0e" stroke-width="2.15"/><rect x="307.8" y="331.5" width="5.6" height="5.6" fill="#fcdc98" stroke="#f2a040" stroke-width="2.1"/><path d="M344,304.3L347.02,309.82H340.98Z" fill="#fff0ec" stroke="#8a0c0c" stroke-width="2.1" stroke-linejoin="round"/><circle cx="458.1" cy="261.3" r="2.25" fill="#fdf1dc" stroke="#2b1a0e" stroke-width="2.15"/><rect x="372.8" y="291.4" width="5.6" height="5.6" fill="#fcdc98" stroke="#f2a040" stroke-width="2.1"/><circle cx="345.8" cy="318.6" r="2.25" fill="#fdf1dc" stroke="#2b1a0e" stroke-width="2.15"/><rect x="405.1" y="273.3" width="5.6" height="5.6" fill="#fcdc98" stroke="#f2a040" stroke-width="2.1"/><path d="M323.3,308.8L326.32,314.32H320.28Z" fill="#fff0ec" stroke="#8a0c0c" stroke-width="2.1" stroke-linejoin="round"/><rect x="371" y="310.4" width="5.6" height="5.6" fill="#fcdc98" stroke="#f2a040" stroke-width="2.1"/><rect x="377.1" y="295" width="5.6" height="5.6" fill="#fcdc98" stroke="#f2a040" stroke-width="2.1"/><rect x="298.4" y="366.3" width="5.6" height="5.6" fill="#fcdc98" stroke="#f2a040" stroke-width="2.1"/><rect x="441.2" y="320.7" width="5.6" height="5.6" fill="#fcdc98" stroke="#f2a040" stroke-width="2.1"/><path d="M403.4,308.7L406.42,314.22H400.38Z" fill="#fff0ec" stroke="#8a0c0c" stroke-width="2.1" stroke-linejoin="round"/><path d="M422.3,300.6L425.32,306.12H419.28Z" fill="#fff0ec" stroke="#8a0c0c" stroke-width="2.1" stroke-linejoin="round"/><path d="M417.8,313.6L420.82,319.12H414.78Z" fill="#fff0ec" stroke="#8a0c0c" stroke-width="2.1" stroke-linejoin="round"/><rect x="307.8" y="355" width="5.6" height="5.6" fill="#fcdc98" stroke="#f2a040" stroke-width="2.1"/><circle cx="321.5" cy="353.2" r="2.25" fill="#fdf1dc" stroke="#2b1a0e" stroke-width="2.15"/><circle cx="454.1" cy="278.8" r="2.25" fill="#fdf1dc" stroke="#2b1a0e" stroke-width="2.15"/><circle cx="325" cy="348.7" r="2.25" fill="#fdf1dc" stroke="#2b1a0e" stroke-width="2.15"/><rect x="398.8" y="304.9" width="5.6" height="5.6" fill="#fcdc98" stroke="#f2a040" stroke-width="2.1"/><circle cx="411.9" cy="328" r="2.25" fill="#fdf1dc" stroke="#2b1a0e" stroke-width="2.15"/><rect x="428.6" y="281.4" width="5.6" height="5.6" fill="#fcdc98" stroke="#f2a040" stroke-width="2.1"/><circle cx="421.4" cy="319" r="2.25" fill="#fdf1dc" stroke="#2b1a0e" stroke-width="2.15"/><path d="M371.1,278.1L374.12,283.62H368.08Z" fill="#fff0ec" stroke="#8a0c0c" stroke-width="2.1" stroke-linejoin="round"/><rect x="395.2" y="284.2" width="5.6" height="5.6" fill="#fcdc98" stroke="#f2a040" stroke-width="2.1"/><path d="M384.4,310.5L387.42,316.02H381.38Z" fill="#fff0ec" stroke="#8a0c0c" stroke-width="2.1" stroke-linejoin="round"/><rect x="343.9" y="306.8" width="5.6" height="5.6" fill="#fcdc98" stroke="#f2a040" stroke-width="2.1"/><rect x="413.2" y="306.7" width="5.6" height="5.6" fill="#fcdc98" stroke="#f2a040" stroke-width="2.1"/><path d="M337.7,302.1L340.72,307.62H334.68Z" fill="#fff0ec" stroke="#8a0c0c" stroke-width="2.1" stroke-linejoin="round"/><rect x="493.5" y="310.3" width="5.6" height="5.6" fill="#fcdc98" stroke="#f2a040" stroke-width="2.1"/><rect x="333.2" y="323" width="5.6" height="5.6" fill="#fcdc98" stroke="#f2a040" stroke-width="2.1"/><path d="M356.7,258.2L359.72,263.72H353.68Z" fill="#fff0ec" stroke="#8a0c0c" stroke-width="2.1" stroke-linejoin="round"/><rect x="420.4" y="290.4" width="5.6" height="5.6" fill="#fcdc98" stroke="#f2a040" stroke-width="2.1"/><circle cx="407" cy="300.5" r="2.25" fill="#fdf1dc" stroke="#2b1a0e" stroke-width="2.15"/><circle cx="483" cy="314.8" r="2.25" fill="#fdf1dc" stroke="#2b1a0e" stroke-width="2.15"/><path d="M369.3,319.6L372.32,325.12H366.28Z" fill="#fff0ec" stroke="#8a0c0c" stroke-width="2.1" stroke-linejoin="round"/><path d="M355.8,307L358.82,312.52H352.78Z" fill="#fff0ec" stroke="#8a0c0c" stroke-width="2.1" stroke-linejoin="round"/><circle cx="481.9" cy="277.5" r="2.25" fill="#fdf1dc" stroke="#2b1a0e" stroke-width="2.15"/><circle cx="429.2" cy="322.6" r="2.25" fill="#fdf1dc" stroke="#2b1a0e" stroke-width="2.15"/><circle cx="493.2" cy="269.2" r="2.25" fill="#fdf1dc" stroke="#2b1a0e" stroke-width="2.15"/><circle cx="431.4" cy="313.1" r="2.25" fill="#fdf1dc" stroke="#2b1a0e" stroke-width="2.15"/><path d="M314.2,320L317.22,325.52H311.18Z" fill="#fff0ec" stroke="#8a0c0c" stroke-width="2.1" stroke-linejoin="round"/><rect x="485" y="316.4" width="5.6" height="5.6" fill="#fcdc98" stroke="#f2a040" stroke-width="2.1"/><circle cx="497.4" cy="282.8" r="2.25" fill="#fdf1dc" stroke="#2b1a0e" stroke-width="2.15"/><path d="M298.5,232.4h3M517.6,232.4h-3M298.5,266.8h3M517.6,266.8h-3M298.5,301.2h3M517.6,301.2h-3M298.5,335.6h3M517.6,335.6h-3M298.5,370h3M517.6,370h-3M298.5,404.4h3M517.6,404.4h-3M298.5,249.6h1.8M517.6,249.6h-1.8M298.5,284h1.8M517.6,284h-1.8M298.5,318.4h1.8M517.6,318.4h-1.8M298.5,352.8h1.8M517.6,352.8h-1.8M298.5,387.2h1.8M517.6,387.2h-1.8M301.5,403.2v-3M301.5,226.8v3M363.5,403.2v-3M363.5,226.8v3M425.5,403.2v-3M425.5,226.8v3M487.5,403.2v-3M487.5,226.8v3M332.5,403.2v-1.8M332.5,226.8v1.8M394.5,403.2v-1.8M394.5,226.8v1.8M456.5,403.2v-1.8M456.5,226.8v1.8" stroke="#505048" stroke-width="1.3" fill="none"/><rect x="298.5" y="226.8" width="219.1" height="176.4" fill="none" stroke="#505048" stroke-width="1.1"/><text x="293.5" y="236.9" font-size="12.2" text-anchor="end" fill="#1a1a1a" >4</text><text x="293.5" y="271.3" font-size="12.2" text-anchor="end" fill="#1a1a1a" >3</text><text x="293.5" y="305.7" font-size="12.2" text-anchor="end" fill="#1a1a1a" >2</text><text x="293.5" y="340.1" font-size="12.2" text-anchor="end" fill="#1a1a1a" >1</text><text x="293.5" y="374.5" font-size="12.2" text-anchor="end" fill="#1a1a1a" >0</text><text x="293.5" y="408.9" font-size="12.2" text-anchor="end" fill="#1a1a1a" >-1</text><text x="302.3" y="417.1" font-size="12" text-anchor="middle" fill="#1a1a1a" >0</text><text x="364.3" y="417.1" font-size="12" text-anchor="middle" fill="#1a1a1a" >10</text><text x="426.3" y="417.1" font-size="12" text-anchor="middle" fill="#1a1a1a" >20</text><text x="488.3" y="417.1" font-size="12" text-anchor="middle" fill="#1a1a1a" >30</text><text x="408.6" y="438.1" font-size="14.6" text-anchor="middle" fill="#1a1a1a" >Microplastic concentration [g/m²]</text><text x="279.5" y="323.9" font-size="14.73" text-anchor="middle" fill="#1a1a1a" transform="rotate(-90 279.5 323.9)">Difference in foam height [mm]</text><text x="308.3" y="254.9" font-size="29" text-anchor="start" fill="#1a1a1a" stroke="#111" stroke-width="0.7">d</text><rect x="429.5" y="374.4" width="4.6" height="4.6" fill="#fcdc98" stroke="#f2a040" stroke-width="1.9"/><path d="M431.8,383.48L434.5,388.4H429.1Z" fill="#fff0ec" stroke="#8a0c0c" stroke-width="1.9" stroke-linejoin="round"/><circle cx="431.8" cy="395" r="2.3" fill="#fdf1dc" stroke="#2b1a0e" stroke-width="2.0"/><text x="442.2" y="379.6" font-size="7.6" text-anchor="start" fill="#1a1a1a" style="stroke-width:0.05px">Plastic &gt; 320 µm</text><text x="442.2" y="388.4" font-size="7.6" text-anchor="start" fill="#1a1a1a" style="stroke-width:0.05px">Plastic &gt; 250 µm</text><text x="442.2" y="397.2" font-size="7.6" text-anchor="start" fill="#1a1a1a" style="stroke-width:0.05px">Plastic &gt; 125 µm</text></svg></body></html>
